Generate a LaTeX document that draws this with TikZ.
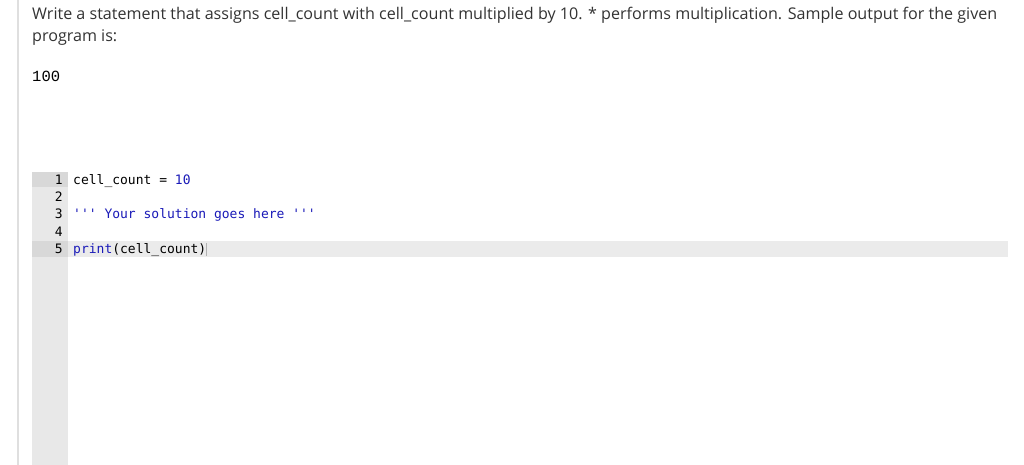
\documentclass[tikz,border=0pt]{standalone}
\usepackage{fontspec}
\setmainfont{Open Sans}
\newfontfamily\codefont{DejaVu Sans Mono}
\newfontfamily\outfont{Liberation Mono}
\definecolor{txt}{HTML}{333333}
\definecolor{gut}{HTML}{E8E8E8}
\definecolor{gutd}{HTML}{D8D8D8}
\definecolor{hl}{HTML}{EBEBEB}
\definecolor{kw}{HTML}{1A1AB8}
\tikzset{
  prose/.style={anchor=base west,inner sep=0pt,text=txt,font=\fontsize{16.1}{19}\selectfont},
  num/.style={anchor=base east,inner sep=0pt,font=\codefont\fontsize{13}{15}\selectfont},
  code/.style={anchor=base west,inner sep=0pt,font=\codefont\fontsize{13}{15}\selectfont}
}
\begin{document}
\begin{tikzpicture}[x=1pt,y=-1pt]
\useasboundingbox[fill=white] (0,0) rectangle (1024,465);
\draw[gray!25,line width=1.5pt] (18,0) -- (18,465);
\node[prose] (l1) at (32,20) {Write a statement that assigns cell\_count with cell\_count multiplied by 10. * performs multiplication. Sample output for the given};
\node[prose] (l2) at (32,42) {program is:};
\node[anchor=base west,inner sep=0pt,font=\outfont\fontsize{15.5}{17}\selectfont] (out) at (32,82) {100};
% editor
\fill[gut] (32,172) rectangle (68,465);
\fill[gutd] (32,172) rectangle (68,187);
\fill[hl] (32,241) rectangle (1008,257);
\fill[gutd] (32,241) rectangle (68,257);
\node[num] (n1) at (63,184) {1};
\node[num] (n2) at (63,201) {2};
\node[num] (n3) at (63,218) {3};
\node[num] (n4) at (63,236) {4};
\node[num] (n5) at (63,253) {5};
\node[code] (c1) at (73,184) {cell\_count = \textcolor{kw}{10}};
\node[code,text=kw] (c3) at (73,218) {''' Your solution goes here '''};
\node[code] (c5) at (73,253) {\textcolor{kw}{print}(cell\_count)};
\draw[gray!60,line width=1pt] (206,243) -- (206,256);
\end{tikzpicture}
\end{document}
